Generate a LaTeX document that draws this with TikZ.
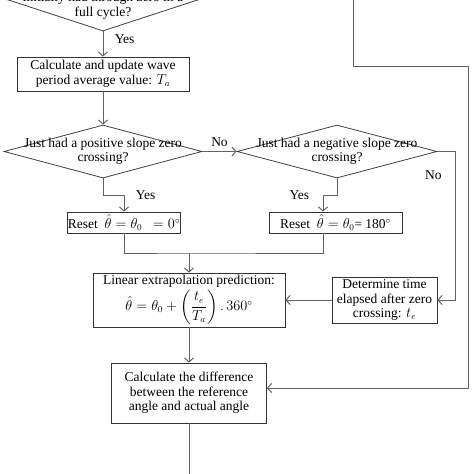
\documentclass[tikz,border=0pt]{standalone}
\usepackage{fontspec}
\setmainfont{Liberation Serif}
\usepackage{amsmath}
\usetikzlibrary{arrows.meta,shapes.geometric}

\tikzset{
  box/.style={draw=black!80,line width=0.8pt,align=center,inner sep=0pt},
  decision/.style={diamond,draw=black!75,line width=0.8pt,align=center,inner sep=-9pt},
  link/.style={draw=black!62,line width=1pt},
  flow/.style={link,-{Straight Barb[length=4pt,width=9pt]}},
}

\begin{document}
\begin{tikzpicture}[x=1pt,y=-1pt,font=\fontsize{13.5}{14.5}\selectfont]
\useasboundingbox (0,0) rectangle (474,474);
\clip (0,0) rectangle (474,474);
% decisions
\node[decision,shape aspect=3.06,minimum width=220pt,minimum height=72pt] (cycle) at (103,-5) {};
\node[align=center] (cycletxt) at (103,6) {initially had through zero in a\\full cycle?};
\node[decision,shape aspect=3.74,minimum width=198pt,minimum height=53pt] (pos) at (103,151.5) {Just had a positive slope zero\\crossing?};
\node[decision,shape aspect=3.77,minimum width=200pt,minimum height=53pt] (neg) at (337,151.5) {Just had a negative slope zero\\crossing?};
% process boxes
\node[box,minimum width=172pt,minimum height=34pt] (avg) at (103,74) {Calculate and update wave\\period average value: $T_a$};
\node[box,minimum width=110pt,minimum height=21pt] (reset1) at (124,222.5) {Reset\ \ $\hat{\theta}=\theta_0\ \ =0^\circ$};
\node[box,minimum width=133pt,minimum height=21pt] (reset2) at (335.5,222.5) {Reset\ \ $\hat{\theta}=\theta_0$= 180$^\circ$};
\node[box,minimum width=192pt,minimum height=54pt] (linear) at (189,300) {Linear extrapolation prediction:\\[1pt]$\hat{\theta}=\theta_0+\left(\dfrac{t_e}{T_a}\right).\,360^\circ$};
\node[box,minimum width=105pt,minimum height=46pt] (elapse) at (384.5,300) {Determine time\\elapsed after zero\\crossing: $t_e$};
\node[box,minimum width=155pt,minimum height=60pt] (diff) at (189,393) {Calculate the difference\\between the reference\\angle and actual angle};
% free ends
\coordinate (feedin) at (353,0);
\coordinate (jog) at (468,66);
\coordinate (join) at (189,253);
\coordinate (out) at (189,474);
% connectors
\draw[flow] (cycle.south) -- node[pos=0.3,right=8pt]{Yes} (avg.north);
\draw[flow] (avg.south) -- (pos.north);
\draw[flow] (pos.east) -- node[above=1pt]{No} (neg.west);
\draw[flow] (pos.south) -- ++(0,17) -| node[pos=0.5,right=8pt]{Yes} (reset1.north);
\draw[flow] (neg.south) -- ++(0,17) -| node[pos=0.5,left=10pt]{Yes} ([xshift=-12.5pt]reset2.north);
\draw[flow] (neg.east) -- ++(18,0) |- node[pos=0.08,left=10pt]{No} (elapse.east);
\draw[link] (reset1.south) |- (join) -| ([xshift=-12.5pt]reset2.south);
\draw[flow] (join) -- (linear.north);
\draw[flow] (elapse.west) -- (linear.east);
\draw[flow] (linear.south) -- (diff.north);
\draw[flow] (feedin) |- (jog) |- ([yshift=5pt]diff.east);
\draw[link] (diff.south) -- (out);
\end{tikzpicture}
\end{document}
